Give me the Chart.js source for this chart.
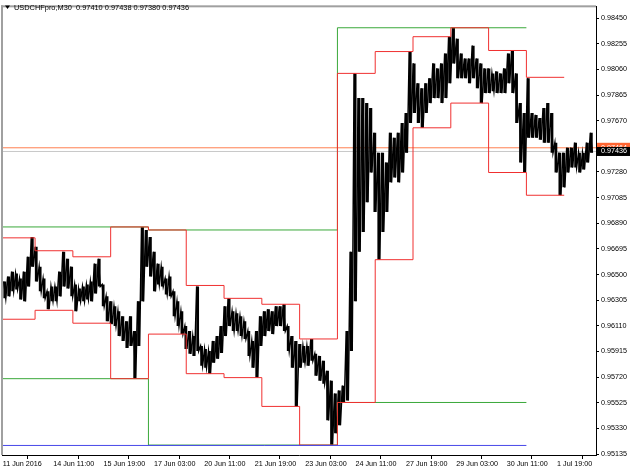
<!DOCTYPE html>
<html>
<head>
<meta charset="utf-8">
<script src="https://cdn.jsdelivr.net/npm/chart.js@4.4.0/dist/chart.umd.min.js"></script>
<style>
  html, body { margin: 0; padding: 0; background: #fff; }
</style>
</head>
<body>
<canvas id="chart" width="630" height="473"></canvas>
<script>
// x axis is counted in M30 bars from the left edge of the window
const xTickBars = [0, 64, 128, 192, 256, 320, 384, 448, 512, 576, 640, 704];
const xTickLabels = ['11 Jun 2016', '14 Jun 11:00', '15 Jun 19:00', '17 Jun 03:00', '20 Jun 11:00', '21 Jun 19:00',
  '23 Jun 03:00', '24 Jun 11:00', '27 Jun 19:00', '29 Jun 03:00', '30 Jun 11:00', '1 Jul 19:00'];
const yTickValues = [0.95135, 0.95330, 0.95525, 0.95720, 0.95915, 0.96110, 0.96305, 0.96500, 0.96695,
  0.96890, 0.97085, 0.97280, 0.97475, 0.97670, 0.97865, 0.98060, 0.98255, 0.98450];

// price range per group of 5 bars
const colBars = 5;
const barHigh = [
  0.96447, 0.96485, 0.96522, 0.96507, 0.96470, 0.96522, 0.96635, 0.96786, 0.96711, 0.96560,
  0.96470, 0.96372, 0.96409, 0.96409, 0.96522, 0.96673, 0.96620, 0.96560, 0.96424, 0.96394,
  0.96409, 0.96424, 0.96447, 0.96583, 0.96620, 0.96424, 0.96334, 0.96296, 0.96258, 0.96221,
  0.96183, 0.96145, 0.96183, 0.96070, 0.96296, 0.96862, 0.96839, 0.96786, 0.96673, 0.96583,
  0.96560, 0.96470, 0.96485, 0.96372, 0.96296, 0.96221, 0.96108, 0.96070, 0.96032, 0.96409,
  0.95957, 0.95934, 0.95919, 0.95995, 0.96032, 0.96108, 0.96258, 0.96319, 0.96221, 0.96206,
  0.96183, 0.96145, 0.96070, 0.95995, 0.96070, 0.96183, 0.96221, 0.96236, 0.96221, 0.96258,
  0.96258, 0.96274, 0.96108, 0.96032, 0.95995, 0.95972, 0.95957, 0.95957, 0.96010, 0.95897,
  0.95881, 0.95844, 0.95768, 0.95693, 0.95595, 0.95618, 0.95655, 0.96070, 0.96673, 0.98030,
  0.97842, 0.97842, 0.97804, 0.97766, 0.97578, 0.97427, 0.97427, 0.97352, 0.97578, 0.97540,
  0.97578, 0.97653, 0.97729, 0.98196, 0.98106, 0.97955, 0.97917, 0.97955, 0.97993, 0.98106,
  0.98068, 0.98106, 0.98181, 0.98309, 0.98377, 0.98294, 0.98181, 0.98143, 0.98143, 0.98241,
  0.98143, 0.98106, 0.98068, 0.98068, 0.98030, 0.98045, 0.98030, 0.98068, 0.98181, 0.98204,
  0.98030, 0.97804, 0.97729, 0.97993, 0.97729, 0.97714, 0.97691, 0.97766, 0.97804, 0.97729,
  0.97503, 0.97427, 0.97427, 0.97465, 0.97465, 0.97503, 0.97427, 0.97427, 0.97503, 0.97578
];
const barLow = [
  0.96319, 0.96334, 0.96372, 0.96387, 0.96311, 0.96296, 0.96409, 0.96560, 0.96447, 0.96372,
  0.96319, 0.96236, 0.96296, 0.96296, 0.96334, 0.96409, 0.96394, 0.96334, 0.96221, 0.96296,
  0.96296, 0.96311, 0.96296, 0.96356, 0.96409, 0.96258, 0.96145, 0.96123, 0.96108, 0.96032,
  0.95995, 0.95942, 0.95957, 0.95708, 0.95957, 0.96296, 0.96560, 0.96485, 0.96372, 0.96424,
  0.96409, 0.96349, 0.96334, 0.96183, 0.96108, 0.96047, 0.95934, 0.95897, 0.95881, 0.95919,
  0.95806, 0.95791, 0.95746, 0.95829, 0.95859, 0.95904, 0.96032, 0.96108, 0.96070, 0.96070,
  0.96032, 0.96010, 0.95881, 0.95791, 0.95716, 0.95957, 0.96032, 0.96070, 0.96047, 0.96108,
  0.96108, 0.96070, 0.95919, 0.95791, 0.95497, 0.95791, 0.95829, 0.95806, 0.95844, 0.95731,
  0.95693, 0.95670, 0.95391, 0.95203, 0.95293, 0.95354, 0.95527, 0.95542, 0.95919, 0.96296,
  0.96673, 0.96824, 0.97050, 0.97276, 0.96975, 0.96613, 0.96824, 0.96975, 0.97201, 0.97239,
  0.97201, 0.97276, 0.97427, 0.97653, 0.97729, 0.97653, 0.97616, 0.97729, 0.97804, 0.97842,
  0.97842, 0.97804, 0.97842, 0.97955, 0.98106, 0.97993, 0.97993, 0.97993, 0.97955, 0.97993,
  0.97917, 0.97804, 0.97880, 0.97880, 0.97895, 0.97880, 0.97880, 0.97880, 0.97955, 0.97880,
  0.97653, 0.97352, 0.97276, 0.97540, 0.97540, 0.97540, 0.97525, 0.97503, 0.97503, 0.97427,
  0.97276, 0.97103, 0.97163, 0.97276, 0.97314, 0.97314, 0.97276, 0.97299, 0.97352, 0.97427
];

// daily high / low levels (red)
const dayStarts = [0, 41, 89, 137, 185, 233, 281, 329, 377, 425, 473, 521, 569, 617, 665, 713];
const dayHigh = [0.96779, 0.96681, 0.96635, 0.96862, 0.96839, 0.96417, 0.96319, 0.96274, 0.96010,
  0.98030, 0.98196, 0.98309, 0.98377, 0.98204, 0.98000];
const dayLow = [0.96160, 0.96228, 0.96130, 0.95708, 0.96047, 0.95746, 0.95716, 0.95497, 0.95203,
  0.95527, 0.96613, 0.97616, 0.97804, 0.97276, 0.97103];

// weekly high / low levels (green)
const weekStarts = [0, 185, 425, 665];
const weekHigh = [0.96862, 0.96839, 0.98377];
const weekLow = [0.95708, 0.95203, 0.95527];

const blueLevel = 0.95200;
const blueEnd = 665;
const orangeLevel = 0.97464;
const bidLevel = 0.97436;
const title = 'USDCHFpro,M30  0.97410 0.97438 0.97380 0.97436';

const FONT = "'Liberation Sans', Arial, sans-serif";
const X_MIN = -1, X_MAX = 753.4;

function steps(starts, values) {
  const pts = values.map((v, i) => ({ x: starts[i], y: v }));
  pts.push({ x: starts[starts.length - 1], y: values[values.length - 1] });
  return pts;
}

// each group drawn as a stroke from its high to its low, so the series reads like dense M30 bars
const priceTrace = [];
barHigh.forEach((h, i) => {
  priceTrace.push({ x: i * colBars + 1.2, y: h });
  priceTrace.push({ x: i * colBars + 3.8, y: barLow[i] });
});
const priceRange = barHigh.map((h, i) => ({ x: i * colBars + colBars / 2, y: [barLow[i], h] }));

function lineSet(data, color, order) {
  return {
    type: 'line', data: data, borderColor: color, borderWidth: 1, pointRadius: 0,
    stepped: true, fill: false, order: order
  };
}

const chrome = {
  id: 'chrome',
  afterDraw(chart) {
    const { ctx, chartArea: a, scales } = chart;
    const y = scales.y;
    ctx.save();
    // window frame
    ctx.fillStyle = '#a0a0a0';
    ctx.fillRect(a.left - 1, a.top - 1, 2, a.bottom - a.top + 1);
    ctx.fillRect(a.left - 1, a.top - 1, a.right - a.left + 1, 2);
    // title
    ctx.fillStyle = '#000';
    ctx.beginPath();
    ctx.moveTo(5, 5.5); ctx.lineTo(10, 5.5); ctx.lineTo(7.5, 9); ctx.closePath();
    ctx.fill();
    ctx.font = '7.4px ' + FONT;
    ctx.textBaseline = 'middle';
    ctx.textAlign = 'left';
    ctx.fillText(title, 14, 7.8);
    // price tags on the axis
    const yo = y.getPixelForValue(orangeLevel);
    ctx.fillStyle = '#ff6633';
    ctx.fillRect(a.right + 1, yo - 5, 34, 9);
    ctx.fillStyle = '#fff';
    ctx.font = '7.2px ' + FONT;
    ctx.fillText(orangeLevel.toFixed(5), a.right + 5, yo);
    const yb = y.getPixelForValue(bidLevel);
    ctx.fillStyle = '#000';
    ctx.fillRect(a.right + 1, yb - 4.5, 34, 9);
    ctx.fillStyle = '#fff';
    ctx.fillText(bidLevel.toFixed(5), a.right + 5, yb);
    ctx.restore();
  }
};

new Chart(document.getElementById('chart'), {
  type: 'bar',
  data: {
    datasets: [
      lineSet([{ x: 0, y: blueLevel }, { x: blueEnd, y: blueLevel }], '#4848e8', 1),
      lineSet(steps(dayStarts, dayHigh), '#f03030', 2),
      lineSet(steps(dayStarts, dayLow), '#f03030', 2),
      lineSet(steps(weekStarts, weekHigh), '#3aa83a', 3),
      lineSet(steps(weekStarts, weekLow), '#3aa83a', 3),
      {
        type: 'line', data: priceTrace, borderColor: '#000', borderWidth: 1.5, pointRadius: 0,
        fill: false, tension: 0, order: 4
      },
      {
        type: 'bar', data: priceRange, backgroundColor: '#000', borderWidth: 0,
        barPercentage: 0.7, categoryPercentage: 1, order: 5
      },
      lineSet([{ x: X_MIN, y: bidLevel }, { x: X_MAX, y: bidLevel }], '#c8c8c8', 6),
      lineSet([{ x: X_MIN, y: orangeLevel }, { x: X_MAX, y: orangeLevel }], '#ff7f50', 7)
    ]
  },
  options: {
    responsive: false,
    animation: false,
    layout: { padding: { left: 2, top: 2, right: 0, bottom: 0 } },
    plugins: { legend: { display: false }, tooltip: { enabled: false } },
    scales: {
      x: {
        type: 'linear', min: X_MIN, max: X_MAX, offset: false,
        afterBuildTicks: s => { s.ticks = xTickBars.map(v => ({ value: v })); },
        afterFit: s => { s.height = 18; },
        grid: { drawOnChartArea: false, drawTicks: true, tickLength: 4, color: '#000' },
        border: { display: true, color: '#000', width: 1 },
        ticks: {
          autoSkip: false, maxRotation: 0, align: 'start', padding: 1, color: '#000',
          font: { family: FONT, size: 7.2 },
          callback: (v, i) => xTickLabels[i]
        }
      },
      y: {
        type: 'linear', position: 'right', min: 0.951275, max: 0.98540,
        afterBuildTicks: s => { s.ticks = yTickValues.map(v => ({ value: v })); },
        afterFit: s => { s.width = 34; },
        grid: { drawOnChartArea: false, drawTicks: true, tickLength: 3, color: '#000' },
        border: { display: true, color: '#000', width: 1 },
        ticks: {
          autoSkip: false, padding: 2, color: '#000',
          font: { family: FONT, size: 7.2 },
          callback: v => v.toFixed(5)
        }
      }
    }
  },
  plugins: [chrome]
});
</script>
</body>
</html>
